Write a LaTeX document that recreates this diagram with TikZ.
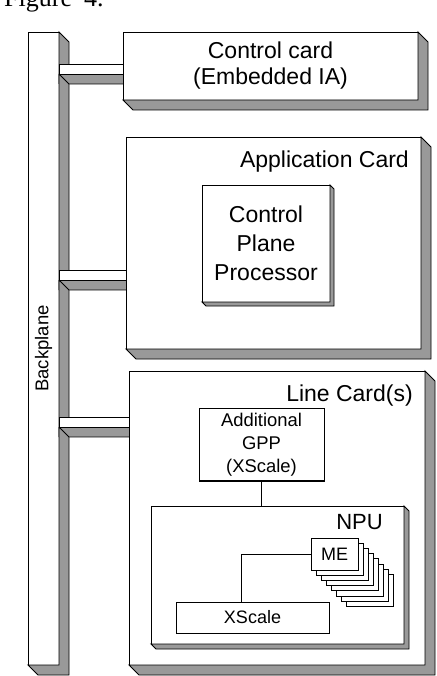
\documentclass[tikz,border=0pt]{standalone}
\usepackage{fontspec}
\setmainfont{Liberation Sans}
\newfontfamily\capfont{Liberation Serif}
\usetikzlibrary{calc,positioning}
\definecolor{slabgray}{RGB}{153,153,153}
\tikzset{
   edge/.style={line width=0.9pt},
   face/.style={draw, fill=white, edge, inner sep=0pt, outer sep=0pt, align=center},
   slabside/.style={draw, fill=slabgray, edge, line join=miter},
   cardlabel/.style={anchor=east, inner sep=0pt, font=\fontsize{23}{26}\selectfont},
}
% 3d side of a card
\newcommand\slab[2]{%
   \filldraw[slabside] (#1.north east) -- ++(#2,#2) -- ($(#1.south east)+(#2,#2)$)
   -- ($(#1.south west)+(#2,#2)$) -- (#1.south west) -- (#1.south east) -- cycle;}
% bus bar from the backplane to a card
\newcommand\bus[2]{%
   \fill[slabgray] ($(bp.east |- #2)+(0,10)$) rectangle ($(#1.west |- #2)+(0,20)$);
   \draw[edge] ($(bp.east |- #2)+(0,10)$) -- ++(0,10)
   ($(bp.east |- #2)+(0,10)$) -- ++(10,10) -- ($(#1.west |- #2)+(0,20)$);
   \draw[face] (bp.east |- #2) rectangle ($(#1.west |- #2)+(0,10)$);}

\begin{document}
\begin{tikzpicture}[x=1pt, y=-1pt]
   \useasboundingbox (0,0) rectangle (436,676);

   \node[anchor=base west, inner sep=0pt, font=\capfont\fontsize{26}{28}\selectfont]
      (fig) at (4,7) {Figure\hspace{12pt}4.};

   % backplane
   \node[face, minimum width=31pt, minimum height=633pt] (bp) at (43.5,348.5) {};
   \slab{bp}{10}
   \node[rotate=90, inner sep=0pt, font=\fontsize{18.5}{20}\selectfont] (bplbl) at (bp) {Backplane};

   % cards
   \node[face, minimum width=295pt, minimum height=68pt, font=\fontsize{23}{26}\selectfont]
      (cc) at (270.5,66) {Control card\\(Embedded IA)};
   \node[face, minimum width=295pt, minimum height=212pt] (ac) at (273.5,243) {};
   \node[face, minimum width=296pt, minimum height=294pt] (lc) at (277,518) {};
   \slab{cc}{10}
   \slab{ac}{10}
   \slab{lc}{10}

   \coordinate (bar1) at (0,64);
   \coordinate (bar2) at (0,270);
   \coordinate (bar3) at (0,417);
   \bus{cc}{bar1}
   \bus{ac}{bar2}
   \bus{lc}{bar3}

   % application card
   \node[cardlabel] (aclbl) at ($(ac.north east)+(-12,25)$) {Application Card};
   \node[face, minimum width=128pt, minimum height=117pt, font=\fontsize{23}{29}\selectfont]
      (cpp) at (266,243.5) {Control\\Plane\\Processor};
   \slab{cpp}{4}

   % line card
   \node[cardlabel] (lclbl) at ($(lc.north east)+(-12,25)$) {Line Card(s)};
   \node[face, minimum width=125pt, minimum height=73pt, font=\fontsize{18.4}{23}\selectfont]
      (gpp) at (261.5,444.5) {Additional\\GPP\\(XScale)};
   \draw[face, line width=1.4pt] (gpp.south west) -- (gpp.south east);

   \node[face, minimum width=253pt, minimum height=138pt] (npu) at (277.5,575) {};
   \slab{npu}{5}
   \node[cardlabel, anchor=east, font=\fontsize{22}{24}\selectfont] (npulbl)
      at ($(npu.north east)+(-21,16)$) {NPU};
   \draw[line width=1.6pt] (gpp.south) -- (gpp.south |- npu.north);

   % micro engines
   \coordinate (mec) at (334.5,554);
   \foreach \k in {7,...,1}
      \draw[face] ($(mec)+(-23.5+5*\k,-16+5.2*\k)$) rectangle ($(mec)+(23.5+5*\k,16+5.2*\k)$);
   \node[face, minimum width=47pt, minimum height=32pt, font=\fontsize{18}{20}\selectfont]
      (me) at (mec) {ME};

   \node[face, minimum width=153pt, minimum height=31pt, font=\fontsize{18}{20}\selectfont]
      (xs) at (252.5,617.5) {XScale};
   \draw[edge] ($(xs.north west)+(65,0)$) |- (me.west);
\end{tikzpicture}
\end{document}
